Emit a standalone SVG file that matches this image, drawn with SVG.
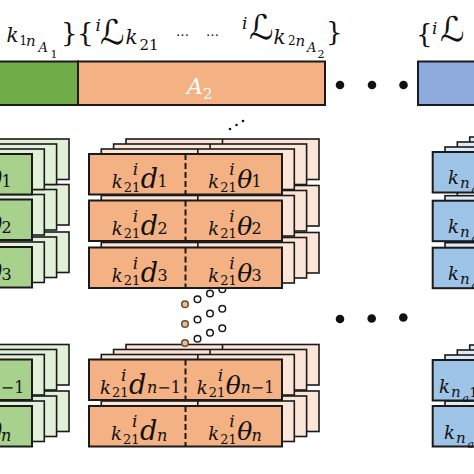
<svg xmlns="http://www.w3.org/2000/svg" width="474" height="474" viewBox="0 0 474 474">
<style>
.m{font-family:"DejaVu Serif","DejaVu Sans",serif;font-style:italic;fill:#111}
.u{font-family:"DejaVu Serif","DejaVu Sans",serif;font-style:normal;fill:#111}
.it{font-style:italic}
.sc{font-family:"DejaVu Sans","Noto Sans",serif;font-style:italic}
.ln{stroke:#1a1a1a;stroke-width:1.6;fill:none}
.dash{stroke:#1a1a1a;stroke-width:2;stroke-dasharray:6 3;fill:none}
.fo{fill:#F4B183;stroke:#1a1a1a;stroke-width:2}
.bo{fill:#FBE5D6;stroke:#1a1a1a;stroke-width:1.6}
.fg{fill:#A9D18E;stroke:#1a1a1a;stroke-width:2}
.bgn{fill:#E2F0D9;stroke:#1a1a1a;stroke-width:1.6}
.fb{fill:#9DC3E6;stroke:#1a1a1a;stroke-width:2}
.bb{fill:#DEEBF7;stroke:#1a1a1a;stroke-width:1.6}
.bar{stroke:#1a1a1a;stroke-width:2}
.dot{fill:#111}
.c1{fill:#E0BE9E;stroke:#6b4a2e;stroke-width:1.5}
.c2{fill:#fff;stroke:#1a1a1a;stroke-width:1.5}
</style>
<defs>
<g id="oRow">
<rect class="bo" x="37" y="-15" width="193" height="40.5"/><line class="ln" x1="133.5" y1="-15" x2="133.5" y2="25.5"/>
<rect class="bo" x="24.6" y="-10" width="193" height="40.5"/><line class="ln" x1="121.1" y1="-10" x2="121.1" y2="30.5"/>
<rect class="bo" x="12.3" y="-5" width="193" height="40.5"/><line class="ln" x1="108.8" y1="-5" x2="108.8" y2="35.5"/>
<rect class="fo" x="0" y="0" width="193" height="40.5"/><line class="dash" x1="96.5" y1="0" x2="96.5" y2="40.5"/>
</g>
<g id="gRow">
<rect class="bgn" x="37" y="-15" width="193" height="40.5"/>
<rect class="bgn" x="24.6" y="-10" width="193" height="40.5"/>
<rect class="bgn" x="12.3" y="-5" width="193" height="40.5"/>
<rect class="fg" x="0" y="0" width="193" height="40.5"/><line class="dash" x1="96.5" y1="0" x2="96.5" y2="40.5"/>
</g>
<g id="bRow">
<rect class="bb" x="37" y="-15" width="193" height="40.5"/>
<rect class="bb" x="24.6" y="-10" width="193" height="40.5"/>
<rect class="bb" x="12.3" y="-5" width="193" height="40.5"/>
<rect class="fb" x="0" y="0" width="193" height="40.5"/><line class="dash" x1="96.5" y1="0" x2="96.5" y2="40.5"/>
</g>
</defs>
<rect width="474" height="474" fill="#fff"/>

<g id="labels">
<text class="u"><tspan class="sc" x="-24" y="40" font-size="34">ℒ</tspan><tspan class="it" x="6.5" y="42" font-size="20">k</tspan><tspan x="19.5" y="45" font-size="12">1</tspan><tspan class="it" x="26" y="45.5" font-size="15">n</tspan><tspan class="it" x="38.5" y="52" font-size="13">A</tspan><tspan x="50.5" y="58" font-size="11">1</tspan><tspan x="61" y="42" font-size="26">}</tspan><tspan x="77" y="42" font-size="26">{</tspan></text>
<text class="u"><tspan class="it" x="95.5" y="31" font-size="17">i</tspan><tspan class="sc" x="100" y="44" font-size="34">ℒ</tspan><tspan class="it" x="125.5" y="43.5" font-size="20">k</tspan><tspan x="139.5" y="50" font-size="15">21</tspan></text>
<text class="u" font-size="13"><tspan x="176" y="36">…</tspan><tspan x="206" y="36">…</tspan></text>
<text class="u"><tspan class="it" x="242" y="28.5" font-size="17">i</tspan><tspan class="sc" x="249" y="38.5" font-size="34">ℒ</tspan><tspan class="it" x="273.5" y="43.5" font-size="20">k</tspan><tspan x="288" y="45" font-size="12">2</tspan><tspan class="it" x="295.5" y="45.5" font-size="15">n</tspan><tspan class="it" x="307" y="52" font-size="13">A</tspan><tspan x="317.5" y="57.5" font-size="11">2</tspan><tspan x="326" y="41" font-size="26">}</tspan></text>
<text class="u"><tspan x="416" y="43" font-size="26">{</tspan><tspan class="it" x="432" y="34" font-size="17">i</tspan><tspan class="sc" x="440" y="41" font-size="34">ℒ</tspan></text>
</g>

<g id="bar-green"><rect class="bar" x="-3" y="61.5" width="81" height="43.5" fill="#70AD47"/></g>
<g id="bar-orange"><rect class="bar" x="78" y="61.5" width="247" height="43.5" fill="#F4B183"/>
<text x="187" y="93.5" font-family="DejaVu Serif,serif" font-style="italic" font-size="22" fill="#fff">A<tspan font-style="normal" font-size="15" dy="5">2</tspan></text></g>
<g id="bar-blue"><rect class="bar" x="418" y="61.5" width="62" height="43.5" fill="#8FAADC"/></g>

<g id="dots-top"><circle class="dot" cx="340" cy="85" r="4.3"/><circle class="dot" cx="372" cy="85" r="4.3"/><circle class="dot" cx="403.5" cy="85" r="4.3"/></g>
<g id="dots-mid"><circle class="dot" cx="340" cy="319" r="4.3"/><circle class="dot" cx="371.7" cy="318.5" r="4.3"/><circle class="dot" cx="403.3" cy="317.5" r="4.3"/></g>
<g id="depth-dots"><circle class="dot" cx="230" cy="129" r="1.3"/><circle class="dot" cx="236.5" cy="125" r="1.3"/><circle class="dot" cx="243" cy="121" r="1.3"/></g>

<!-- green stack -->
<g id="green-row-5"><use href="#gRow" x="-161" y="406"/>
<text class="u"><tspan class="it" x="-41.7" y="440" font-size="18">k</tspan><tspan x="-29.7" y="443.5" font-size="13">11</tspan><tspan class="it" x="-20.7" y="427" font-size="17">i</tspan><tspan class="it" x="-12.7" y="440" font-size="25">θ</tspan><tspan class="it" x="1" y="441" font-size="16">n</tspan></text></g>
<g id="green-row-4"><use href="#gRow" x="-161" y="359.5"/>
<text class="u"><tspan class="it" x="-53.3" y="393.5" font-size="18">k</tspan><tspan x="-41.3" y="397" font-size="13">11</tspan><tspan class="it" x="-32.3" y="380.5" font-size="17">i</tspan><tspan class="it" x="-24.3" y="393.5" font-size="25">θ</tspan><tspan class="it" x="-9.5" y="392.5" font-size="16">n</tspan><tspan font-size="16">−1</tspan></text></g>
<g id="green-row-3"><use href="#gRow" x="-161" y="247"/>
<text class="u"><tspan class="it" x="-41.7" y="281" font-size="18">k</tspan><tspan x="-29.7" y="284.5" font-size="13">11</tspan><tspan class="it" x="-20.7" y="268" font-size="17">i</tspan><tspan class="it" x="-12.7" y="281" font-size="25">θ</tspan><tspan x="1.5" y="280" font-size="16">3</tspan></text></g>
<g id="green-row-2"><use href="#gRow" x="-161" y="199.5"/>
<text class="u"><tspan class="it" x="-41.7" y="233.5" font-size="18">k</tspan><tspan x="-29.7" y="237" font-size="13">11</tspan><tspan class="it" x="-20.7" y="220.5" font-size="17">i</tspan><tspan class="it" x="-12.7" y="233.5" font-size="25">θ</tspan><tspan x="1.5" y="232.5" font-size="16">2</tspan></text></g>
<g id="green-row-1"><use href="#gRow" x="-161" y="154"/>
<text class="u"><tspan class="it" x="-41.7" y="188" font-size="18">k</tspan><tspan x="-29.7" y="191.5" font-size="13">11</tspan><tspan class="it" x="-20.7" y="175" font-size="17">i</tspan><tspan class="it" x="-12.7" y="188" font-size="25">θ</tspan><tspan x="1.5" y="187" font-size="16">1</tspan></text></g>

<!-- orange stack -->
<g id="orange-row-5"><use href="#oRow" x="89" y="406"/>
<text class="u"><tspan class="it" x="111" y="440" font-size="18">k</tspan><tspan x="123" y="443.5" font-size="13">21</tspan><tspan class="it" x="132" y="427" font-size="17">i</tspan><tspan class="it" x="140" y="440" font-size="27">d</tspan><tspan class="it" x="157" y="441" font-size="16">n</tspan></text>
<text class="u"><tspan class="it" x="208.3" y="440" font-size="18">k</tspan><tspan x="220.3" y="443.5" font-size="13">21</tspan><tspan class="it" x="229.3" y="427" font-size="17">i</tspan><tspan class="it" x="237.3" y="440" font-size="25">θ</tspan><tspan class="it" x="251.5" y="441" font-size="16">n</tspan></text></g>
<g id="orange-row-4"><use href="#oRow" x="89" y="359.5"/>
<text class="u"><tspan class="it" x="100" y="393.5" font-size="18">k</tspan><tspan x="112" y="397" font-size="13">21</tspan><tspan class="it" x="121" y="380.5" font-size="17">i</tspan><tspan class="it" x="129" y="393.5" font-size="27">d</tspan><tspan class="it" x="147" y="392.5" font-size="16">n</tspan><tspan font-size="16">−1</tspan></text>
<text class="u"><tspan class="it" x="196.7" y="393.5" font-size="18">k</tspan><tspan x="208.7" y="397" font-size="13">21</tspan><tspan class="it" x="217.7" y="380.5" font-size="17">i</tspan><tspan class="it" x="225.7" y="393.5" font-size="25">θ</tspan><tspan class="it" x="240.5" y="392.5" font-size="16">n</tspan><tspan font-size="16">−1</tspan></text></g>

<g id="depth-circles">
<circle class="c2" cx="222.3" cy="289.3" r="3.3"/><circle class="c2" cx="210" cy="293.5" r="3.3"/><circle class="c2" cx="197.5" cy="299.3" r="3.3"/><circle class="c1" cx="185" cy="304.3" r="3.3"/>
<circle class="c2" cx="222.3" cy="308.8" r="3.3"/><circle class="c2" cx="210" cy="313.5" r="3.3"/><circle class="c2" cx="197.5" cy="319.5" r="3.3"/><circle class="c1" cx="185" cy="324" r="3.3"/>
<circle class="c2" cx="222.3" cy="328.3" r="3.3"/><circle class="c2" cx="210" cy="332.8" r="3.3"/><circle class="c2" cx="197.5" cy="338.8" r="3.3"/><circle class="c1" cx="185" cy="343" r="3.3"/>
</g>

<g id="orange-row-3"><use href="#oRow" x="89" y="247.5"/>
<text class="u"><tspan class="it" x="111.7" y="281.5" font-size="18">k</tspan><tspan x="123.7" y="285" font-size="13">21</tspan><tspan class="it" x="132.7" y="268.5" font-size="17">i</tspan><tspan class="it" x="140.7" y="281.5" font-size="27">d</tspan><tspan x="157.5" y="280.5" font-size="16">3</tspan></text>
<text class="u"><tspan class="it" x="208.3" y="281.5" font-size="18">k</tspan><tspan x="220.3" y="285" font-size="13">21</tspan><tspan class="it" x="229.3" y="268.5" font-size="17">i</tspan><tspan class="it" x="237.3" y="281.5" font-size="25">θ</tspan><tspan x="251.5" y="280.5" font-size="16">3</tspan></text></g>
<g id="orange-row-2"><use href="#oRow" x="89" y="200.5"/>
<text class="u"><tspan class="it" x="111.7" y="234.5" font-size="18">k</tspan><tspan x="123.7" y="238" font-size="13">21</tspan><tspan class="it" x="132.7" y="221.5" font-size="17">i</tspan><tspan class="it" x="140.7" y="234.5" font-size="27">d</tspan><tspan x="157.5" y="233.5" font-size="16">2</tspan></text>
<text class="u"><tspan class="it" x="208.3" y="234.5" font-size="18">k</tspan><tspan x="220.3" y="238" font-size="13">21</tspan><tspan class="it" x="229.3" y="221.5" font-size="17">i</tspan><tspan class="it" x="237.3" y="234.5" font-size="25">θ</tspan><tspan x="251.5" y="233.5" font-size="16">2</tspan></text></g>
<g id="orange-row-1"><use href="#oRow" x="89" y="154"/>
<text class="u"><tspan class="it" x="111.7" y="188" font-size="18">k</tspan><tspan x="123.7" y="191.5" font-size="13">21</tspan><tspan class="it" x="132.7" y="175" font-size="17">i</tspan><tspan class="it" x="140.7" y="188" font-size="27">d</tspan><tspan x="157.5" y="187" font-size="16">1</tspan></text>
<text class="u"><tspan class="it" x="208.3" y="188" font-size="18">k</tspan><tspan x="220.3" y="191.5" font-size="13">21</tspan><tspan class="it" x="229.3" y="175" font-size="17">i</tspan><tspan class="it" x="237.3" y="188" font-size="25">θ</tspan><tspan x="251.5" y="187" font-size="16">1</tspan></text></g>

<!-- blue stack -->
<g id="blue-row-5"><use href="#bRow" x="432.7" y="406"/>
<text class="u"><tspan class="it" x="444" y="439" font-size="18">k</tspan><tspan class="it" x="456" y="443" font-size="15">n</tspan><tspan class="it" x="467.5" y="448" font-size="11">a</tspan><tspan x="474" y="443" font-size="13">1</tspan></text></g>
<g id="blue-row-4"><use href="#bRow" x="432.7" y="360"/>
<text class="u"><tspan class="it" x="439" y="393" font-size="18">k</tspan><tspan class="it" x="451" y="397" font-size="15">n</tspan><tspan class="it" x="462.5" y="402" font-size="11">a</tspan><tspan x="469.5" y="397" font-size="13">1</tspan></text></g>
<g id="blue-row-3"><use href="#bRow" x="432.7" y="247.7"/>
<text class="u"><tspan class="it" x="448" y="279.7" font-size="18">k</tspan><tspan class="it" x="460" y="283.7" font-size="15">n</tspan><tspan class="it" x="471.5" y="288.7" font-size="11">a</tspan></text></g>
<g id="blue-row-2"><use href="#bRow" x="432.7" y="200.7"/>
<text class="u"><tspan class="it" x="448" y="232.7" font-size="18">k</tspan><tspan class="it" x="460" y="236.7" font-size="15">n</tspan><tspan class="it" x="471.5" y="241.7" font-size="11">a</tspan></text></g>
<g id="blue-row-1"><use href="#bRow" x="432.7" y="152"/>
<text class="u"><tspan class="it" x="448" y="184" font-size="18">k</tspan><tspan class="it" x="460" y="188" font-size="15">n</tspan><tspan class="it" x="471.5" y="193" font-size="11">a</tspan></text></g>
</svg>
